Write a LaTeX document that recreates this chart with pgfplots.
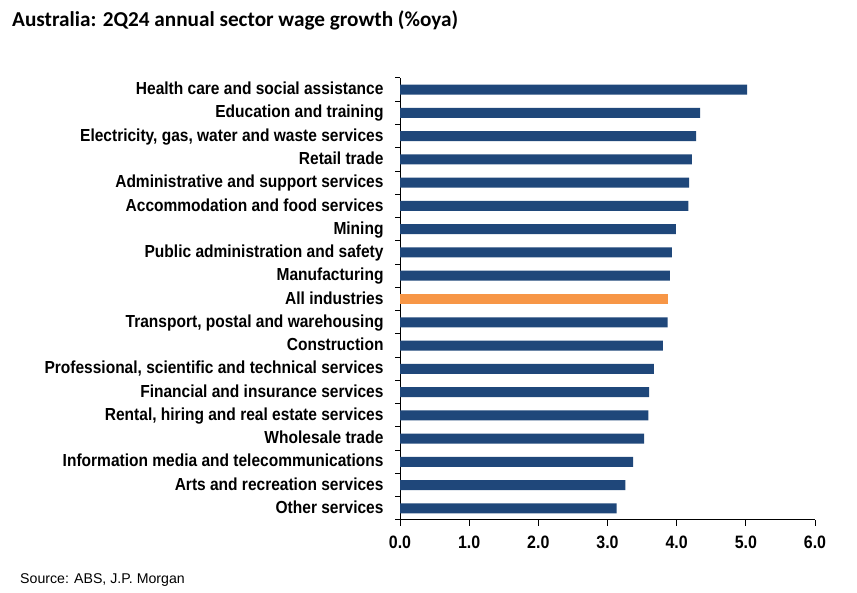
\documentclass[border=0pt]{standalone}
\usepackage{fontspec}
\usepackage{pgfplots}
\pgfplotsset{compat=1.18}
\newfontfamily\lab[FakeStretch=0.89,BoldFont={Liberation Sans Bold}]{Liberation Sans}
\newfontfamily\titlefont[BoldFont={Carlito Bold}]{Carlito}
\newfontfamily\srcfont{Liberation Sans}
\definecolor{navy}{HTML}{1F477A}
\definecolor{orng}{HTML}{F79646}
\begin{document}
\begin{tikzpicture}[x=1bp,y=1bp]
\useasboundingbox (0,0) rectangle (857,593);
\node[anchor=west,inner sep=0] at (12,573) {\titlefont\bfseries\fontsize{21.3}{24}\selectfont Australia: 2Q24 annual sector wage growth (\%oya)};
\node[anchor=west,inner sep=0] at (20,13) {\srcfont\fontsize{14.2}{16}\selectfont Source: ABS, J.P. Morgan};
\begin{axis}[
  at={(400bp,73bp)}, anchor=south west,
  width=415bp, height=442bp, scale only axis,
  xbar, bar width=10bp, bar shift=0pt,
  xmin=0, xmax=6, ymin=-0.5, ymax=18.5,
  axis x line*=bottom, axis y line*=left,
  axis line style={black, line width=1pt},
  xtick={0,1,...,6},
  xticklabel style={font=\lab\bfseries\fontsize{18}{20}\selectfont, yshift=-6bp},
  /pgf/number format/assume math mode=true,
  /pgf/number format/fixed, /pgf/number format/precision=1, /pgf/number format/fixed zerofill,
  x tick style={black, line width=1pt},
  tick align=outside,
  major tick length=6bp,
  ytick={0,...,18},
  y tick style={draw=none},
  yticklabels={Other services,Arts and recreation services,Information media and telecommunications,Wholesale trade,{Rental, hiring and real estate services},Financial and insurance services,{Professional, scientific and technical services},Construction,{Transport, postal and warehousing},All industries,Manufacturing,Public administration and safety,Mining,Accommodation and food services,Administrative and support services,Retail trade,{Electricity, gas, water and waste services},Education and training,Health care and social assistance},
  yticklabel style={font=\lab\bfseries\fontsize{17.5}{20}\selectfont, xshift=-7bp, yshift=-2.5bp, text height=0.72em, text depth=0.2em},
  extra y ticks={-0.5,0.5,...,18.5},
  extra y tick labels={},
  extra y tick style={y tick style={draw=black, line width=1pt}, major tick length=5bp},
  clip=false,
]
\addplot[fill=navy, draw=none] coordinates {
(3.13,0) (3.26,1) (3.37,2) (3.53,3) (3.59,4) (3.60,5) (3.67,6) (3.80,7) (3.87,8)
(3.90,10) (3.93,11) (3.99,12) (4.17,13) (4.18,14) (4.22,15) (4.28,16) (4.34,17) (5.02,18)};
\addplot[fill=orng, draw=none] coordinates {(3.88,9)};
\end{axis}
\end{tikzpicture}
\end{document}
